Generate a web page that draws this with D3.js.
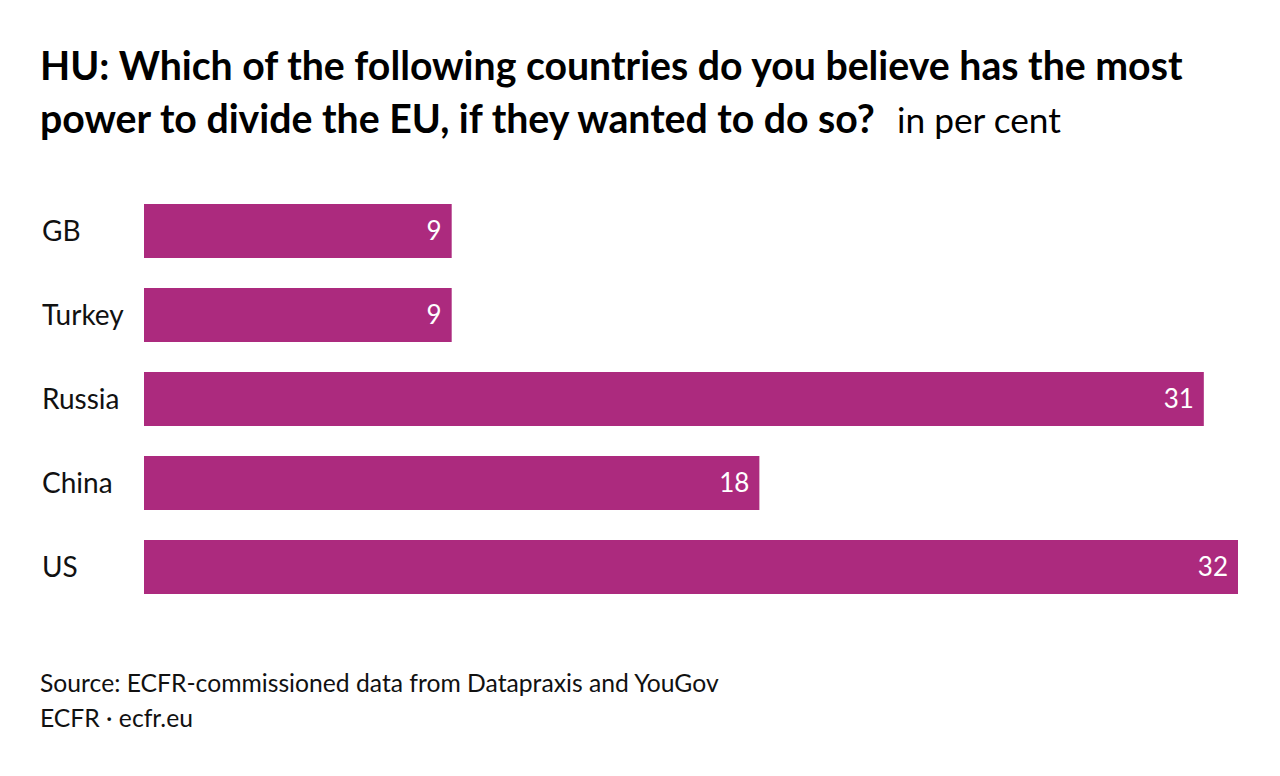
<!DOCTYPE html>
<html>
<head>
<meta charset="utf-8">
<script src="https://cdn.jsdelivr.net/npm/d3@7"></script>
<style>
  body { margin: 0; background: #fff; }
  svg text { font-family: "Lato", "Noto Sans", sans-serif; }
</style>
</head>
<body>
<div id="chart"></div>
<script>
(function() {
  // chart data
  const countries = ["GB", "Turkey", "Russia", "China", "US"];
  const shares = [9, 9, 31, 18, 32];

  const titleLines = [
    "HU: Which of the following countries do you believe has the most",
    "power to divide the EU, if they wanted to do so?"
  ];
  const subtitle = "in per cent";
  const footer = [
    "Source: ECFR-commissioned data from Datapraxis and YouGov",
    "ECFR \u00b7 ecfr.eu"
  ];

  const width = 1280;
  const height = 776;
  const barColor = "#ac2a7e";

  var svg = d3.select("#chart")
    .append("svg")
    .attr("width", width)
    .attr("height", height);

  // shrink or grow a text node's font so it spans a target width
  function fitWidth(sel, target) {
    var size = parseFloat(sel.attr("font-size"));
    var w = sel.node().getComputedTextLength();
    sel.attr("font-size", size * target / w);
  }

  var t1 = svg.append("text")
    .attr("x", 40).attr("y", 80)
    .attr("font-size", 38).attr("font-weight", 700)
    .attr("fill", "#000")
    .text(titleLines[0]);
  fitWidth(t1, 1143);

  var t2 = svg.append("text")
    .attr("x", 40).attr("y", 133)
    .attr("font-size", t1.attr("font-size")).attr("font-weight", 700)
    .attr("fill", "#000")
    .text(titleLines[1]);

  var t2end = 40 + t2.node().getComputedTextLength();
  var sub = svg.append("text")
    .attr("x", 897).attr("y", 133)
    .attr("font-size", 32)
    .attr("fill", "#000")
    .text(subtitle);
  fitWidth(sub, 164);
  if (t2end + 14 > 897) sub.attr("x", t2end + 14);

  var x = d3.scaleLinear()
    .domain([0, 32])
    .range([144, 1238]);

  // 84px step, 54px bars
  var y = d3.scaleBand()
    .domain(countries)
    .range([189, 609])
    .paddingInner(30 / 84)
    .paddingOuter(15 / 84);

  var rows = svg.append("g")
    .selectAll("g")
    .data(countries)
    .join("g");

  rows.append("rect")
    .attr("x", x(0))
    .attr("y", d => y(d))
    .attr("width", (d, i) => x(shares[i]) - x(0))
    .attr("height", y.bandwidth())
    .attr("fill", barColor);

  var cat = rows.append("text")
    .attr("x", 42)
    .attr("y", d => y(d) + y.bandwidth() / 2)
    .attr("dy", "0.35em")
    .attr("font-size", 28)
    .attr("fill", "#111")
    .text(d => d);

  rows.append("text")
    .attr("x", (d, i) => x(shares[i]) - 10)
    .attr("y", d => y(d) + y.bandwidth() / 2)
    .attr("dy", "0.35em")
    .attr("text-anchor", "end")
    .attr("font-size", 26)
    .attr("fill", "#fff")
    .text((d, i) => shares[i]);

  var f1 = svg.append("text")
    .attr("x", 40).attr("y", 692)
    .attr("font-size", 23)
    .attr("fill", "#111")
    .text(footer[0]);
  fitWidth(f1, 679);

  svg.append("text")
    .attr("x", 40).attr("y", 727)
    .attr("font-size", f1.attr("font-size"))
    .attr("fill", "#111")
    .text(footer[1]);
}());
</script>
</body>
</html>
